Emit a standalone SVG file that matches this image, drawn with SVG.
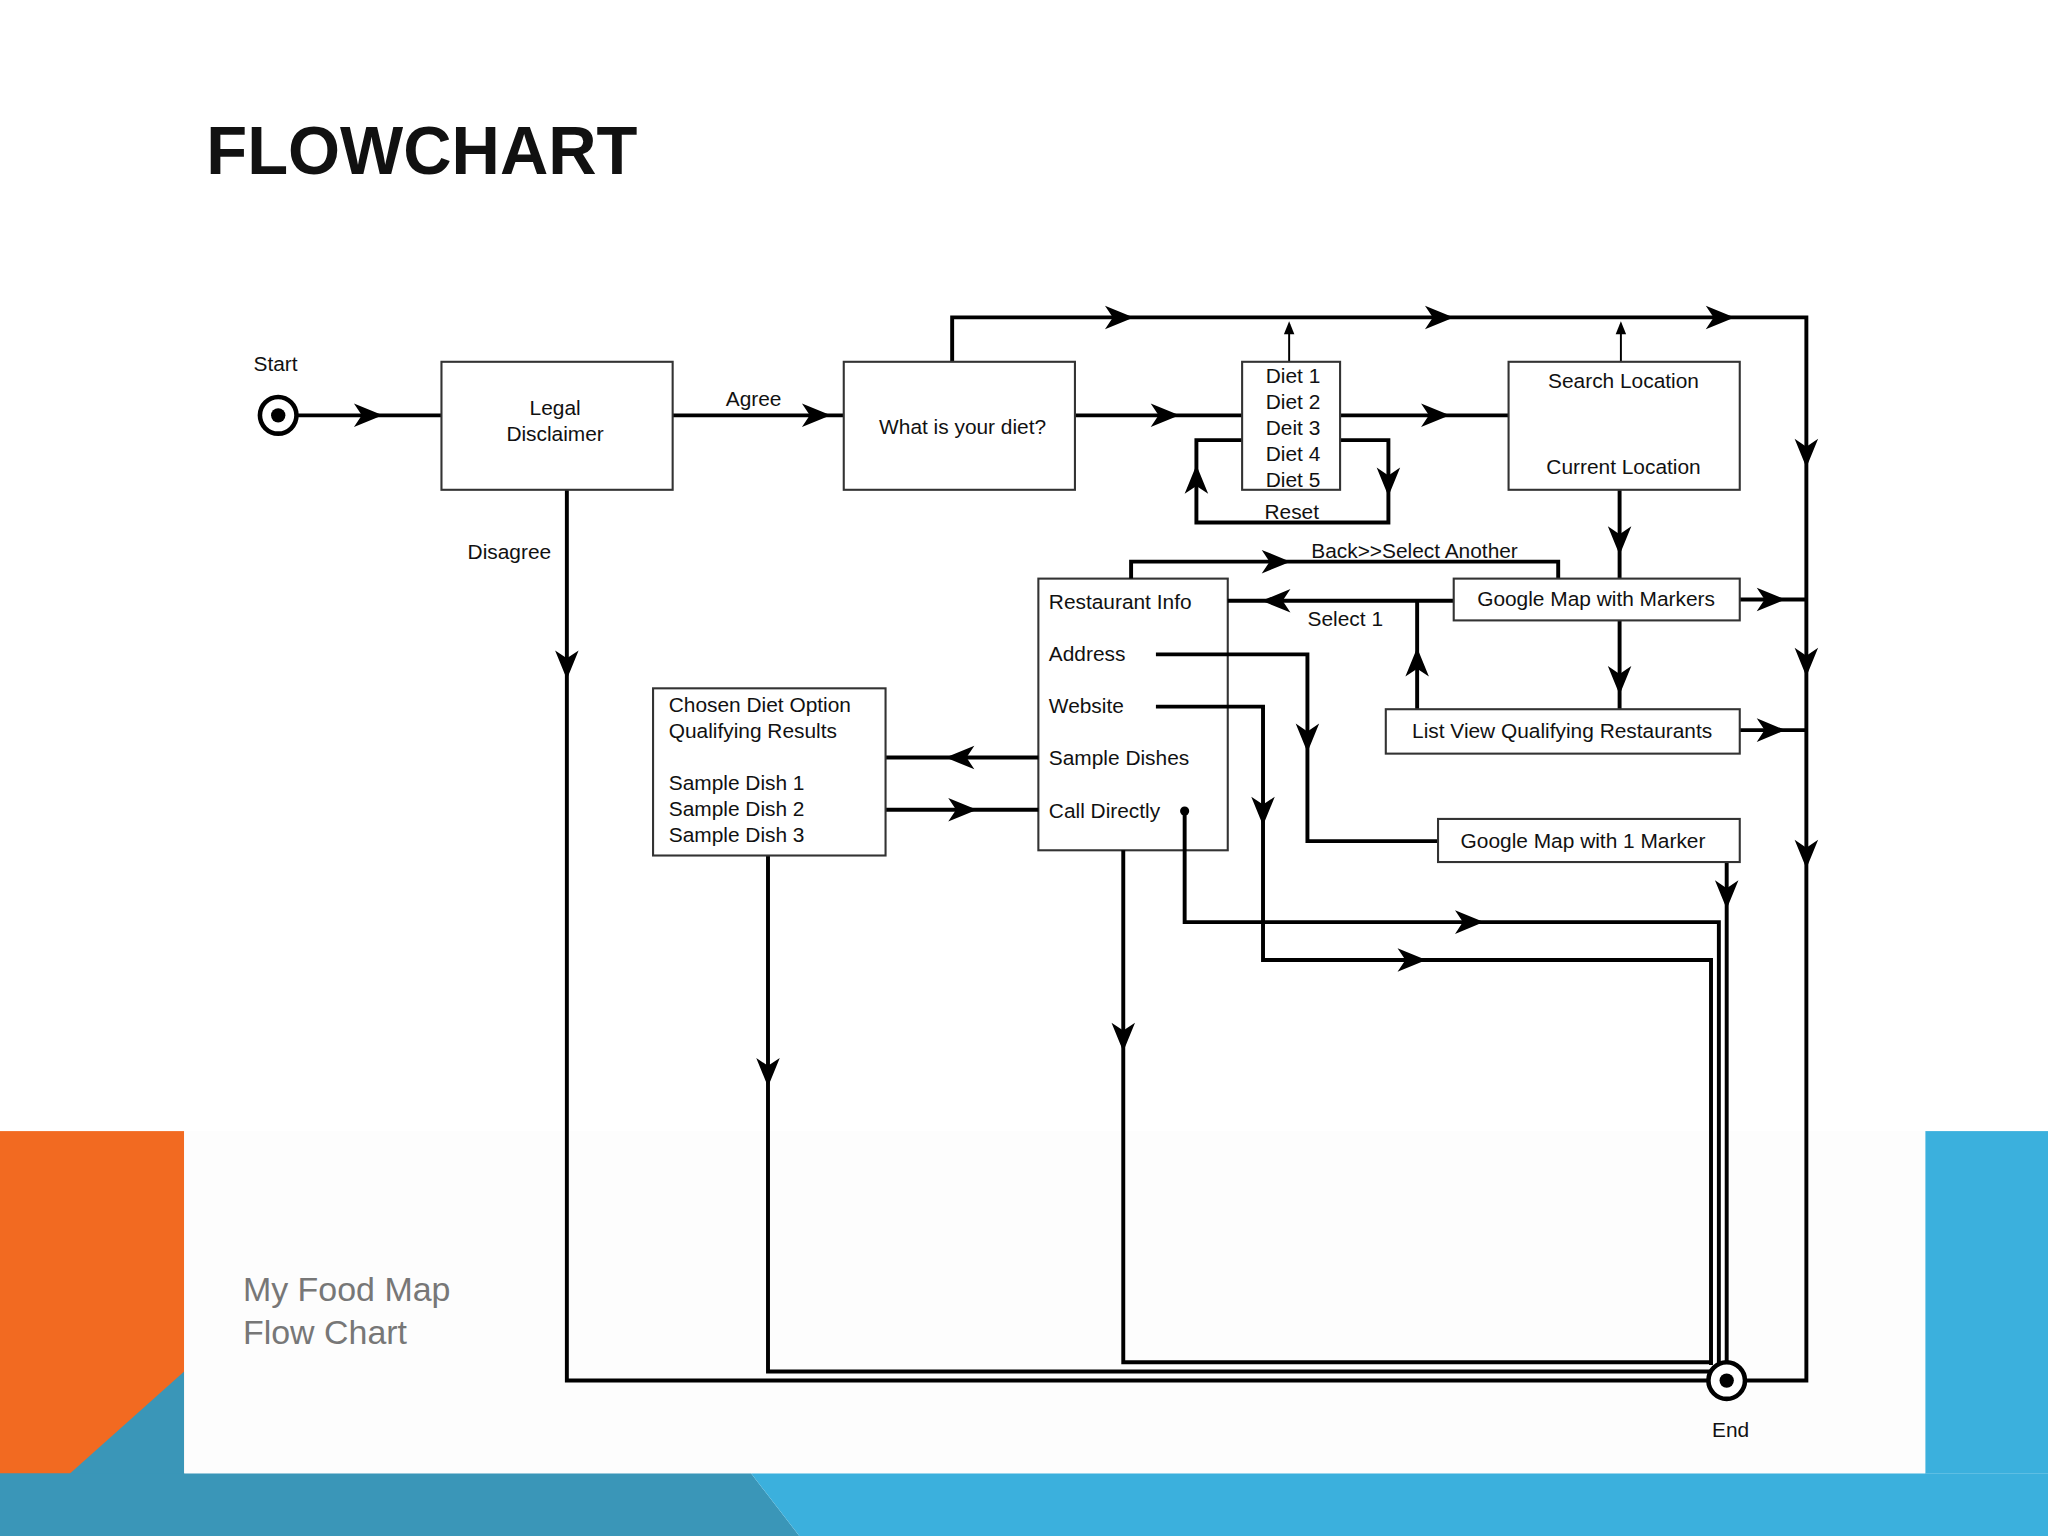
<svg xmlns="http://www.w3.org/2000/svg" xmlns:xlink="http://www.w3.org/1999/xlink" width="2048" height="1536" viewBox="0 0 2048 1536">
<defs>
<path id="arr" d="M-12,-9 L10,0 L-12,9 L-6,0 Z" fill="#000"/>
<style>
.ln{fill:none;stroke:#000;stroke-width:3;stroke-linejoin:miter}
.thin{fill:none;stroke:#000;stroke-width:1.5}
.bx{fill:#fff;stroke:#333;stroke-width:1.6}
.t{font-family:"Liberation Sans",Arial,sans-serif;font-size:16px;fill:#111}
.c{text-anchor:middle}
</style>
</defs>
<rect width="2048" height="1536" fill="#fff"/>
<g transform="scale(1.306122)">
<rect x="0" y="866" width="141" height="310" fill="#f26a21"/>
<polygon points="0,1176 141,1050 141,1176" fill="#3a96b8"/>
<rect x="1474" y="866" width="94" height="262" fill="#3bb0dd"/>
<polygon points="0,1128 575,1128 612,1176 0,1176" fill="#3a96b8"/>
<polygon points="575,1128 1568,1128 1568,1176 612,1176" fill="#3bb0dd"/>
<rect x="141" y="866" width="1333" height="262" fill="#fdfdfd"/>
<text x="158" y="133" font-family="Liberation Sans,Arial,sans-serif" font-weight="bold" font-size="52" textLength="330" lengthAdjust="spacingAndGlyphs" fill="#111">FLOWCHART</text>
<text x="186" y="996" font-family="Liberation Sans,Arial,sans-serif" font-size="26" fill="#777">My Food Map</text>
<text x="186" y="1029" font-family="Liberation Sans,Arial,sans-serif" font-size="26" fill="#777">Flow Chart</text>

<g id="rinfo"><rect class="bx" x="795" y="443" width="145" height="208"/>
<text class="t" x="803" y="466">Restaurant Info</text><text class="t" x="803" y="506">Address</text><text class="t" x="803" y="546">Website</text><text class="t" x="803" y="586">Sample Dishes</text><text class="t" x="803" y="626">Call Directly</text></g>

<g id="connectors">
<path class="ln" d="M227,318 H338"/>
<use xlink:href="#arr" transform="translate(283,318)"/>
<path class="ln" d="M515,318 H646"/>
<use xlink:href="#arr" transform="translate(626,318)"/>
<path class="ln" d="M823,318 H951"/>
<use xlink:href="#arr" transform="translate(893,318)"/>
<path class="ln" d="M1026,318 H1155"/>
<use xlink:href="#arr" transform="translate(1100,318)"/>
<path class="ln" d="M729,277 V243 H1383 V1057 H1336"/>
<use xlink:href="#arr" transform="translate(858,243)"/>
<use xlink:href="#arr" transform="translate(1103,243)"/>
<use xlink:href="#arr" transform="translate(1318,243)"/>
<use xlink:href="#arr" transform="translate(1383,348) rotate(90)"/>
<use xlink:href="#arr" transform="translate(1383,508) rotate(90)"/>
<use xlink:href="#arr" transform="translate(1383,655) rotate(90)"/>
<path class="thin" d="M987,277 V248"/>
<path d="M983,256 L987,246 L991,256 Z"/>
<path class="thin" d="M1241,277 V248"/>
<path d="M1237,256 L1241,246 L1245,256 Z"/>
<path class="ln" d="M951,337 H916 V400 H1063 V337 H1026"/>
<use xlink:href="#arr" transform="translate(916,366) rotate(-90)"/>
<use xlink:href="#arr" transform="translate(1063,370) rotate(90)"/>
<path class="ln" d="M1240,375 V443"/>
<use xlink:href="#arr" transform="translate(1240,415) rotate(90)"/>
<path class="ln" d="M1332,459 H1383"/>
<use xlink:href="#arr" transform="translate(1357,459)"/>
<path class="ln" d="M1240,475 V543"/>
<use xlink:href="#arr" transform="translate(1240,522) rotate(90)"/>
<path class="ln" d="M1332,559 H1383"/>
<use xlink:href="#arr" transform="translate(1357,559)"/>
<path class="ln" d="M1113,460 H940"/>
<use xlink:href="#arr" transform="translate(976,460) rotate(180)"/>
<path class="ln" d="M1085,543 V460"/>
<use xlink:href="#arr" transform="translate(1085,506) rotate(-90)"/>
<path class="ln" d="M866,443 V430 H1193 V443"/>
<use xlink:href="#arr" transform="translate(978,430)"/>
<path class="ln" d="M885,501 H1001 V644 H1101"/>
<use xlink:href="#arr" transform="translate(1001,566) rotate(90)"/>
<path class="ln" d="M1322,660 V1043"/>
<use xlink:href="#arr" transform="translate(1322,686) rotate(90)"/>
<path class="ln" d="M885,541 H967 V735 H1310 V1045"/>
<use xlink:href="#arr" transform="translate(967,622) rotate(90)"/>
<use xlink:href="#arr" transform="translate(1082,735)"/>
<circle cx="907" cy="621" r="3.5"/>
<path class="ln" d="M907,621 V706 H1316 V1045"/>
<use xlink:href="#arr" transform="translate(1126,706)"/>
<path class="ln" d="M860,651 V1043 H1310"/>
<use xlink:href="#arr" transform="translate(860,795) rotate(90)"/>
<path class="ln" d="M795,580 H678"/>
<use xlink:href="#arr" transform="translate(734,580) rotate(180)"/>
<path class="ln" d="M678,620 H795"/>
<use xlink:href="#arr" transform="translate(738,620)"/>
<path class="ln" d="M588,655 V1050 H1310"/>
<use xlink:href="#arr" transform="translate(588,822) rotate(90)"/>
<path class="ln" d="M434,375 V1057 H1308"/>
<use xlink:href="#arr" transform="translate(434,510) rotate(90)"/>
</g>

<g id="start"><circle cx="213" cy="318" r="14" fill="#fff" stroke="#000" stroke-width="3.5"/><circle cx="213" cy="318" r="5.5"/><text class="t c" x="211" y="284">Start</text></g>
<g id="end"><circle cx="1322" cy="1057" r="14" fill="#fff" stroke="#000" stroke-width="3.5"/><circle cx="1322" cy="1057" r="5.5"/><text class="t c" x="1325" y="1100">End</text></g>
<g id="legal"><rect class="bx" x="338" y="277" width="177" height="98"/><text class="t c" x="425" y="318">Legal</text><text class="t c" x="425" y="338">Disclaimer</text></g>
<text class="t c" x="577" y="311">Agree</text>
<text class="t c" x="390" y="428">Disagree</text>
<g id="diet-q"><rect class="bx" x="646" y="277" width="177" height="98"/><text class="t c" x="737" y="332">What is your diet?</text></g>
<g id="diets"><rect class="bx" x="951" y="277" width="75" height="98"/>
<text class="t c" x="990" y="293">Diet 1</text><text class="t c" x="990" y="313">Diet 2</text><text class="t c" x="990" y="333">Deit 3</text><text class="t c" x="990" y="353">Diet 4</text><text class="t c" x="990" y="373">Diet 5</text></g>
<text class="t c" x="989" y="397">Reset</text>
<g id="search"><rect class="bx" x="1155" y="277" width="177" height="98"/><text class="t c" x="1243" y="297">Search Location</text><text class="t c" x="1243" y="363">Current Location</text></g>
<text class="t c" x="1083" y="427">Back&gt;&gt;Select Another</text>
<g id="gmm"><rect class="bx" x="1113" y="443" width="219" height="32"/><text class="t c" x="1222" y="464">Google Map with Markers</text></g>
<text class="t c" x="1030" y="479">Select 1</text>
<g id="list"><rect class="bx" x="1061" y="543" width="271" height="34"/><text class="t c" x="1196" y="565">List View Qualifying Restaurants</text></g>
<g id="gm1"><rect class="bx" x="1101" y="627" width="231" height="33"/><text class="t c" x="1212" y="649">Google Map with 1 Marker</text></g>
<g id="chosen"><rect class="bx" x="500" y="527" width="178" height="128"/>
<text class="t" x="512" y="545">Chosen Diet Option</text><text class="t" x="512" y="565">Qualifying Results</text><text class="t" x="512" y="605">Sample Dish 1</text><text class="t" x="512" y="625">Sample Dish 2</text><text class="t" x="512" y="645">Sample Dish 3</text></g>
</g>
</svg>
